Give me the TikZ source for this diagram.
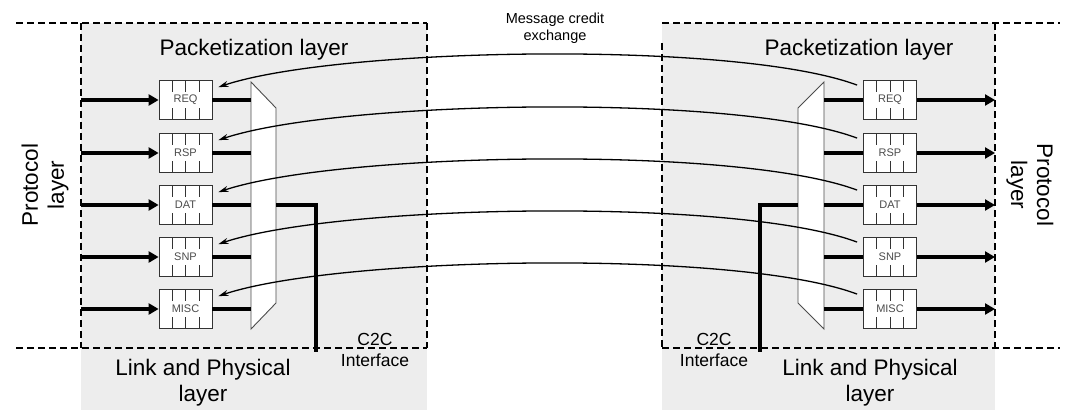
\documentclass[tikz,border=0pt]{standalone}
\usepackage{fontspec}
\setmainfont{Liberation Sans}
\usetikzlibrary{arrows.meta,calc}
\begin{document}
\begin{tikzpicture}[x=1pt,y=-1pt,
  dsh/.style={dash pattern=on 7pt off 4pt, line width=1.4pt},
  thk/.style={line width=3.6pt},
  qbox/.style={draw=black!80, line width=0.8pt, fill=white, minimum width=53pt, minimum height=39pt, inner sep=0pt},
  qtxt/.style={font=\fontsize{11}{13}\selectfont, text=black!70},
  credit/.style={line width=1.3pt,-{Stealth[length=10pt,width=6pt]}},
  lbl/.style={font=\fontsize{22.5}{26}\selectfont, align=center}]
\useasboundingbox (0,0) rectangle (1080,420);
\fill[white] (0,0) rectangle (1080,420);
\fill[black!7] (81,23) rectangle (427,410);
\fill[black!7] (662,23) rectangle (995,410);
% dashed borders
\draw[dsh] (16,23) -- (427,23);
\draw[dsh] (16,348) -- (427,348);
\draw[dsh] (81,23) -- (81,348);
\draw[dsh] (427,23) -- (427,348);
\draw[dsh] (662,23) -- (1060,23);
\draw[dsh] (662,348) -- (1060,348);
\draw[dsh] (662,43) -- (662,348);
\draw[dsh] (995,23) -- (995,348);
% muxes
\draw[black!70, line width=0.9pt, fill=white] (251,82) -- (276,108) -- (276,303) -- (251,329) -- cycle;
\draw[black!70, line width=0.9pt, fill=white] (824,82) -- (798,108) -- (798,303) -- (824,329) -- cycle;
\coordinate (lb) at (316,352);
\coordinate (rb) at (760,352);
\draw[thk] (276,205) -| (lb);
\draw[thk] (798,205) -| (rb);
\foreach \n/\y in {REQ/100,RSP/153,DAT/205,SNP/257,MISC/309}{
  \node[qbox] (L\n) at (185.5,\y) {};
  \node[qbox] (R\n) at (890,\y) {};
  \foreach \q in {L\n,R\n}{
    \foreach \f in {0.25,0.5,0.75}{
      \draw[black!80, line width=0.8pt] ($(\q.north west)!\f!(\q.north east)$) -- ++(0,12);
      \draw[black!80, line width=0.8pt] ($(\q.south west)!\f!(\q.south east)$) -- ++(0,-12);
    }
    \node[qtxt] at (\q) {\n};
  }
  \coordinate (la\n) at (81,\y);
  \coordinate (lm\n) at (251,\y);
  \coordinate (ra\n) at (995,\y);
  \coordinate (rm\n) at (824,\y);
  \draw[thk,-{Triangle[length=10pt,width=11pt]}] (la\n) -- (L\n.west);
  \draw[thk] (L\n.east) -- (lm\n);
  \draw[thk,-{Triangle[length=10pt,width=11pt]}] (R\n.east) -- (ra\n);
  \draw[thk] (rm\n) -- (R\n.west);
  \draw[credit] ($(R\n.north west)+(-6,5)$) .. controls +(-120,-45) and +(120,-40) .. ($(L\n.north east)+(6,7)$);
}
\node[lbl] (pl) at (254,50) {Packetization layer};
\node[lbl] (pr) at (859,50) {Packetization layer};
\node[lbl, rotate=90] (protl) at (45,185) {Protocol\\layer};
\node[lbl, rotate=-90] (protr) at (1030,185) {Protocol\\layer};
\node[lbl] (lpl) at (203,383) {Link and Physical\\layer};
\node[lbl] (lpr) at (870,383) {Link and Physical\\layer};
\node[font=\fontsize{17.5}{21}\selectfont, align=center] (c2cl) at (375,350) {C2C\\Interface};
\node[font=\fontsize{17.5}{21}\selectfont, align=center] (c2cr) at (714,350) {C2C\\Interface};
\node[font=\fontsize{14.5}{17}\selectfont, align=center] (msg) at (555,28) {Message credit\\exchange};
\end{tikzpicture}
\end{document}
